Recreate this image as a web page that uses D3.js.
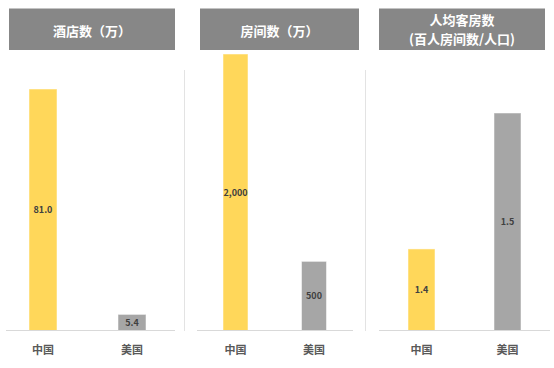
<!DOCTYPE html>
<html>
<head>
<meta charset="utf-8">
<script src="https://cdn.jsdelivr.net/npm/d3@7"></script>
<style>
  body { margin: 0; background: #fff; }
  svg text { font-family: "Noto Sans CJK SC", "Noto Sans", sans-serif; }
</style>
</head>
<body>
<div id="chart"></div>
<script>
// data
const countries = ["中国", "美国"];
const hotels = [81.0, 5.4];        // 万
const rooms = [2000, 500];         // 万
const roomsPerCap = [1.4, 1.5];    // 百人房间数/人口
const titles = [["酒店数（万）"], ["房间数（万）"], ["人均客房数", "(百人房间数/人口)"]];

const colors = ["#FFD75A", "#A6A6A6"];

const svg = d3.select("#chart").append("svg")
    .attr("width", 554)
    .attr("height", 368);

// panel layout
const panels = [
  {values: hotels, fmt: d3.format(".1f"), box: [9, 175], axis: [6, 175], centers: [43, 132], barW: 28, yMin: 0, yTop: 89},
  {values: rooms, fmt: d3.format(",d"), box: [200, 359], axis: [197, 353], centers: [235.5, 314], barW: 25, yMin: 0, yTop: 54},
  {values: roomsPerCap, fmt: d3.format(".1f"), box: [379, 545], axis: [379, 550], centers: [421.5, 507.5], barW: 27, yMin: 1.34, yTop: 113}
];
const baseline = 330.5;

panels.forEach((p, i) => {
  const g = svg.append("g");

  // title box
  g.append("rect")
    .attr("x", p.box[0]).attr("y", 8.5)
    .attr("width", p.box[1] - p.box[0]).attr("height", 41.5)
    .attr("fill", "#878787");
  const lines = titles[i];
  lines.forEach((t, j) => {
    g.append("text")
      .attr("x", (p.box[0] + p.box[1]) / 2)
      .attr("y", lines.length === 1 ? 30 : 19.5 + j * 19)
      .attr("text-anchor", "middle")
      .attr("dominant-baseline", "central")
      .attr("fill", "#fff")
      .attr("font-size", 13)
      .attr("font-weight", "bold")
      .text(t);
  });

  const x = d3.scalePoint().domain(countries).range(p.centers);
  const maxV = d3.max(p.values);
  const y = d3.scaleLinear().domain([p.yMin, maxV]).range([baseline, p.yTop]);

  // bars
  g.selectAll("rect.bar")
    .data(p.values)
    .enter().append("rect")
    .attr("class", "bar")
    .attr("x", (d, k) => x(countries[k]) - p.barW / 2)
    .attr("y", d => y(d))
    .attr("width", p.barW)
    .attr("height", d => baseline - y(d))
    .attr("fill", (d, k) => colors[k])
    .attr("stroke", "#fff")
    .attr("stroke-opacity", 0.5)
    .attr("stroke-width", 1);

  // value labels
  g.selectAll("text.val")
    .data(p.values)
    .enter().append("text")
    .attr("class", "val")
    .attr("x", (d, k) => x(countries[k]))
    .attr("y", d => (y(d) + baseline) / 2)
    .attr("text-anchor", "middle")
    .attr("dominant-baseline", "central")
    .attr("font-size", 9)
    .attr("font-weight", "bold")
    .attr("fill", "#404040")
    .text(d => p.fmt(d));

  // baseline
  g.append("line")
    .attr("x1", p.axis[0]).attr("x2", p.axis[1])
    .attr("y1", baseline).attr("y2", baseline)
    .attr("stroke", "#D9D9D9").attr("stroke-width", 1);

  // category labels
  g.selectAll("text.cat")
    .data(countries)
    .enter().append("text")
    .attr("class", "cat")
    .attr("x", d => x(d))
    .attr("y", 349)
    .attr("text-anchor", "middle")
    .attr("dominant-baseline", "central")
    .attr("font-size", 11)
    .attr("font-weight", "bold")
    .attr("fill", "#595959")
    .text(d => d);
});

// separators
[184.5, 365.5].forEach(sx => {
  svg.append("line")
    .attr("x1", sx).attr("x2", sx)
    .attr("y1", 70).attr("y2", 331)
    .attr("stroke", "#E3E3E3").attr("stroke-width", 1);
});
</script>
</body>
</html>
